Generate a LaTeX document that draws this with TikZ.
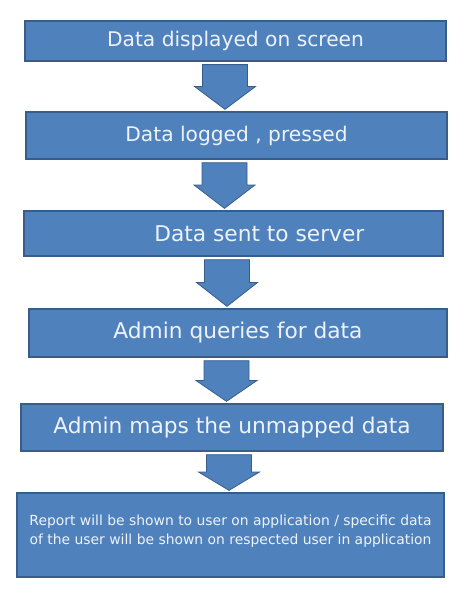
\documentclass[tikz,border=0pt]{standalone}
\usepackage{fontspec}
\setmainfont{DejaVu Sans}
\usepackage{tikz}
\usetikzlibrary{
    calc
}
\definecolor{boxFill}{RGB}{79,129,189}
\definecolor{boxLine}{RGB}{56,93,138}
\definecolor{boxText}{RGB}{238,243,249}
\tikzset{
  box/.style   = {draw=boxLine, fill=boxFill, line width=1.3pt, text=boxText,
                  inner sep=0pt, align=center},
  bigtxt/.style = {font=\fontsize{20.2pt}{24pt}\selectfont},
  hugetxt/.style = {font=\fontsize{21.7pt}{26pt}\selectfont},
  smalltxt/.style = {font=\fontsize{13.9pt}{19pt}\selectfont},
  barrow/.style = {draw=boxLine, fill=boxFill, line width=0.8pt}
}
\newcommand{\blockarrow}[3]{%
  \filldraw[barrow] let \p1 = (#1.south), \p2 = (#2.north),
      \p3 = ($(#1.south)!0.5!(#2.north)$) in
    (#3pt-22.5pt, \y1-3pt) -- (#3pt+22.5pt, \y1-3pt) -- (#3pt+22.5pt, \y3)
    -- (#3pt+30.5pt, \y3) -- (#3pt, \y2+2pt) -- (#3pt-30.5pt, \y3)
    -- (#3pt-22.5pt, \y3) -- cycle;
}

\begin{document}
\begin{tikzpicture}[x=1pt, y=-1pt]

  \useasboundingbox (0,0) rectangle (474,594);

  %% -- Boxes ----------------------------------------------------
  \node[box, bigtxt, minimum width=421, minimum height=40] (shown) at (235.5, 41)
    {Data displayed on screen};
  \node[box, bigtxt, minimum width=421, minimum height=47] (logged) at (236.5, 135.5)
    {Data logged , pressed};
  \node[box, hugetxt, minimum width=419, minimum height=45] (sent) at (233.5, 233.5)
    {\hphantom{Data}Data sent to server};
  \node[box, hugetxt, minimum width=418, minimum height=48] (query) at (238, 333)
    {Admin queries for data};
  \node[box, hugetxt, minimum width=422, minimum height=47] (maps) at (232, 427.5)
    {Admin maps the unmapped data};
  \node[box, smalltxt, minimum width=427, minimum height=84] (report) at (230.5, 535)
    {Report will be shown to user on application / specific data\\
     of the user will be shown on respected user in application\\[-9pt]\mbox{}};

  %% -- Block arrows ---------------------------------------------
  \blockarrow{shown}{logged}{225}
  \blockarrow{logged}{sent}{224.5}
  \blockarrow{sent}{query}{227}
  \blockarrow{query}{maps}{226.5}
  \blockarrow{maps}{report}{229}

\end{tikzpicture}
\end{document}
